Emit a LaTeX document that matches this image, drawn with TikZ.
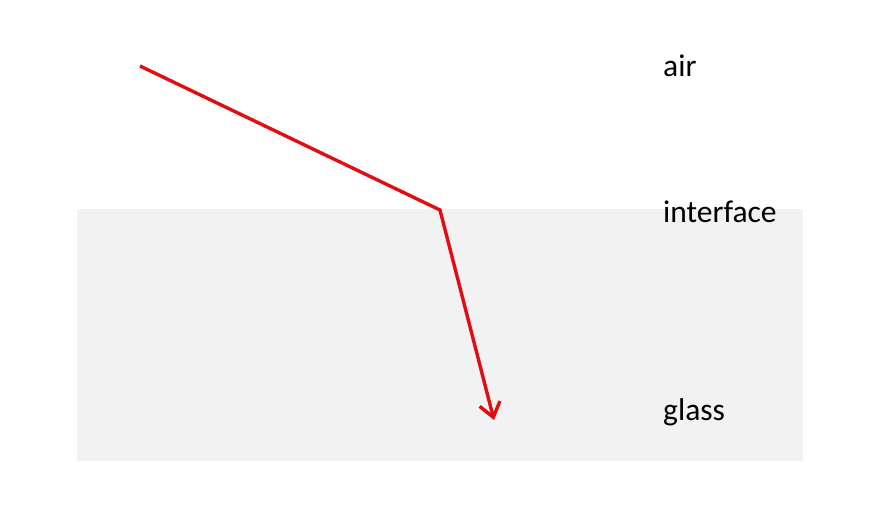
\documentclass[tikz,border=0pt]{standalone}
\usepackage{fontspec}
\setmainfont{Carlito}
\usepackage{xcolor}
\usetikzlibrary{arrows.meta}
\definecolor{rayred}{RGB}{226,12,18}
\definecolor{glassgray}{RGB}{242,242,242}

\begin{document}
\begin{tikzpicture}[x=1pt, y=-1pt,
        label text/.style={anchor=base west, inner sep=0pt, font=\fontsize{31.5}{36}\selectfont}]
        \useasboundingbox (0,0) rectangle (882,508);
        \fill[glassgray] (77,209) rectangle (803,461);

        \node[label text] (air) at (663,77) {air};
        \node[label text] (interface) at (663,222) {interface};
        \node[label text] (glass) at (663,420) {glass};

        \coordinate (src) at (140,66);
        \coordinate (hit) at (440,210);
        \coordinate (dst) at (494,420);
        \draw[line width=3.4pt, rayred, line join=miter, -{Straight Barb[length=14pt, width=21pt, line width=3.4pt]}] (src) -- (hit) -- (dst);
    \end{tikzpicture}
\end{document}
